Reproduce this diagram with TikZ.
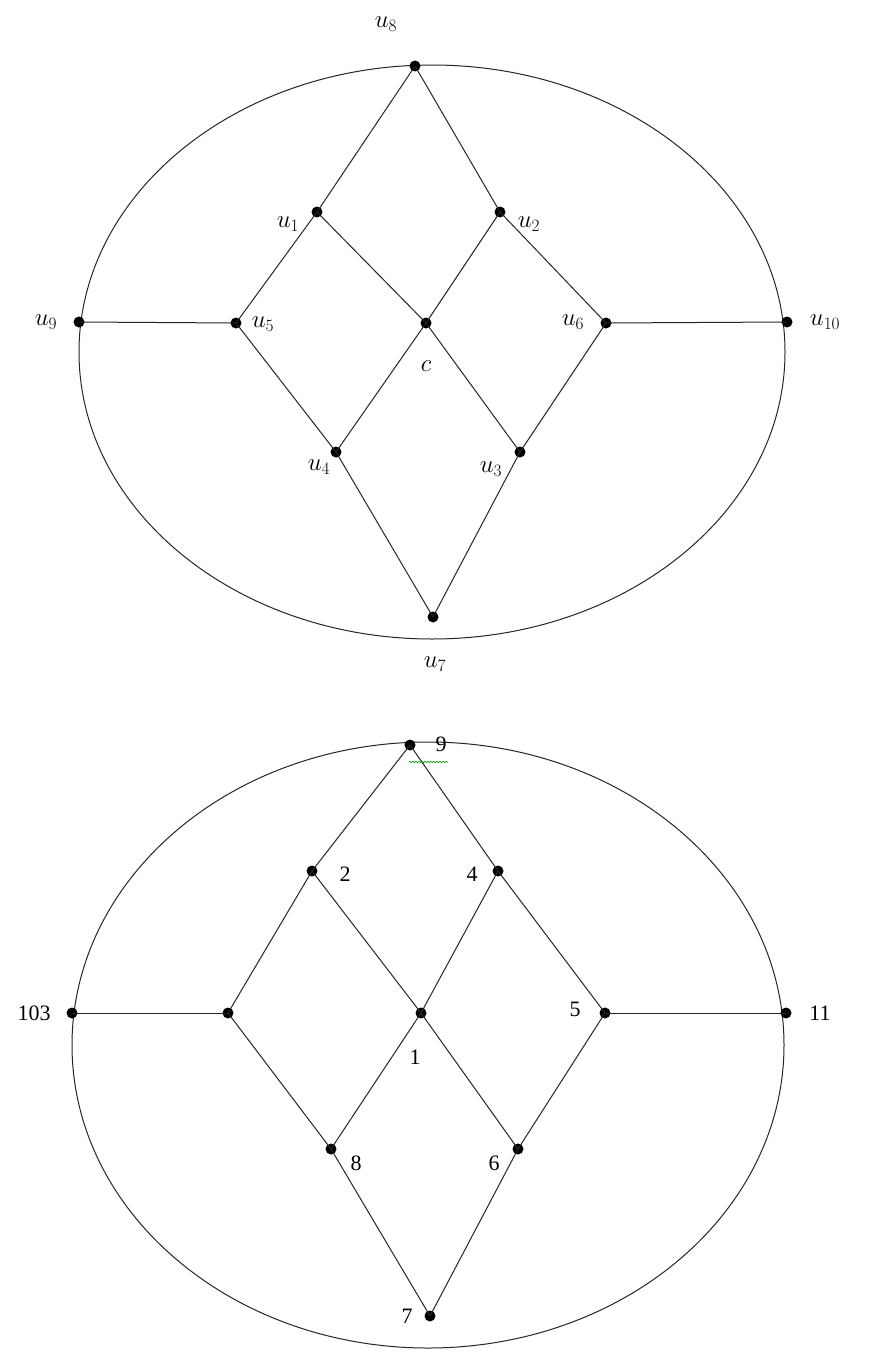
\documentclass[tikz,border=0pt]{standalone}
\usepackage{fontspec}
\setmainfont{Liberation Serif}
\usetikzlibrary{decorations.pathmorphing}
\begin{document}
\begin{tikzpicture}[x=1pt,y=-1pt,
  vtx/.style={circle,fill=black,inner sep=0pt,minimum size=11pt},
  edge/.style={line width=1pt,draw=black!85},
  ulab/.style={font=\fontsize{25}{30}\selectfont,inner sep=0pt},
  nlab/.style={font=\fontsize{22}{26}\selectfont,inner sep=0pt}]
\useasboundingbox[fill=white] (0,0) rectangle (868,1354);
% ---------- top graph ----------
\draw[edge] (432,352) ellipse [x radius=353, y radius=287];
\node[vtx] (u8) at (415,66) {};
\node[vtx] (u1) at (317,212) {};
\node[vtx] (u2) at (500,212) {};
\node[vtx] (u5) at (236,323) {};
\node[vtx] (c)  at (426,323) {};
\node[vtx] (u6) at (606,323) {};
\node[vtx] (u9) at (79,322) {};
\node[vtx] (u10) at (787,322) {};
\node[vtx] (u4) at (336,452) {};
\node[vtx] (u3) at (520,452) {};
\node[vtx] (u7) at (433,617) {};
\foreach \a/\b in {u8/u1,u8/u2,u1/u5,u1/c,u2/c,u2/u6,u5/u9,u5/u4,c/u4,c/u3,u6/u3,u6/u10,u4/u7,u3/u7}
  \draw[edge] (\a.center) -- (\b.center);
\node[ulab] (lu8) at (386,24) {$u_8$};
\node[ulab] (lu1) at (288,224) {$u_1$};
\node[ulab] (lu2) at (529,224) {$u_2$};
\node[ulab] (lu5) at (263,324) {$u_5$};
\node[ulab] (lc)  at (426,366) {$c$};
\node[ulab] (lu6) at (573,322) {$u_6$};
\node[ulab] (lu9) at (46,322) {$u_9$};
\node[ulab] (lu10) at (825,322) {$u_{10}$};
\node[ulab] (lu4) at (319,467) {$u_4$};
\node[ulab] (lu3) at (491,469) {$u_3$};
\node[ulab] (lu7) at (435,664) {$u_7$};
% ---------- bottom graph ----------
\draw[edge] (428,1045) ellipse [x radius=356, y radius=303];
\node[vtx] (n9) at (410,745) {};
\node[vtx] (n2) at (312,871) {};
\node[vtx] (n4) at (498,871) {};
\node[vtx] (n103) at (72,1013) {};
\node[vtx] (nl) at (228,1013) {};
\node[vtx] (n1) at (421,1013) {};
\node[vtx] (n5) at (605,1013) {};
\node[vtx] (n11) at (786,1013) {};
\node[vtx] (n8) at (331,1149) {};
\node[vtx] (n6) at (518,1149) {};
\node[vtx] (n7) at (430,1316) {};
\foreach \a/\b in {n9/n2,n9/n4,n2/nl,n2/n1,n4/n1,n4/n5,n103/nl,nl/n8,n1/n8,n1/n6,n5/n6,n5/n11,n8/n7,n6/n7}
  \draw[edge] (\a.center) -- (\b.center);
\node[nlab] (l9) at (441,744) {9};
\coordinate (w1) at (409,762);
\coordinate (w2) at (448,762);
\draw[green!60!black,line width=0.6pt,decorate,decoration={snake,amplitude=0.8pt,segment length=3pt}] (w1) -- (w2);
\node[nlab] (l2) at (345,874) {2};
\node[nlab] (l4) at (472,874) {4};
\node[nlab] (l103) at (34,1013) {103};
\node[nlab] (l1) at (415,1057) {1};
\node[nlab] (l5) at (575,1009) {5};
\node[nlab] (l11) at (820,1013) {11};
\node[nlab] (l8) at (356,1163) {8};
\node[nlab] (l6) at (494,1163) {6};
\node[nlab] (l7) at (407,1316) {7};
\end{tikzpicture}
\end{document}
